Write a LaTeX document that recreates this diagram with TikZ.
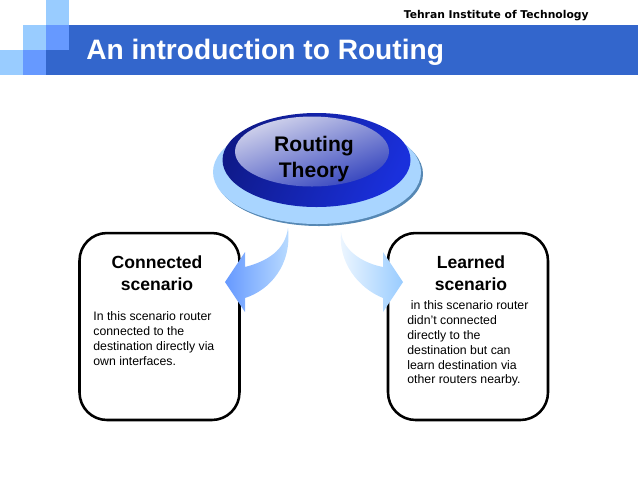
\documentclass[tikz,border=0pt]{standalone}
\usepackage{fontspec}
\setmainfont{Liberation Sans}
\newfontfamily\hdrfont{DejaVu Sans}
\usetikzlibrary{positioning}
\definecolor{bannerblue}{HTML}{3366CC}
\definecolor{midblue}{HTML}{6699FF}
\definecolor{paleblue}{HTML}{99CCFF}
\definecolor{discpale}{HTML}{A9D5FF}
\definecolor{discrim}{HTML}{5688B4}
\definecolor{discdark}{HTML}{0F1A8A}
\definecolor{discbright}{HTML}{1A30DC}
\definecolor{toplight}{HTML}{D2D4EC}
\definecolor{topdeep}{HTML}{3444BE}
\begin{document}
\begin{tikzpicture}[x=0.02cm, y=-0.02cm,
    mybox/.style={draw=black, line width=1.45pt, rounded corners=0.55cm, minimum width=3.2cm, minimum height=3.74cm, inner sep=0pt},
    myhead/.style={font=\fontsize{10}{12.5}\selectfont\bfseries, align=center, inner sep=0pt},
    mybody/.style={font=\fontsize{7}{8.5}\selectfont, align=left, inner sep=0pt}]
    \useasboundingbox (0,0) rectangle (638,478);
    % banner and squares
    \fill[bannerblue] (69,25) rectangle (638,50);
    \fill[bannerblue] (46,50) rectangle (638,75);
    \foreach \x/\y/\col in {46/0/paleblue,23/25/paleblue,0/50/paleblue,46/25/midblue,23/50/midblue}{
      \fill[\col] (\x,\y) rectangle (\x+23,\y+25);
    }
    \node[anchor=base west, inner sep=0pt, text=white, font=\fontsize{16}{18}\selectfont\bfseries] (title) at (86,59) {An introduction to Routing};
    \node[anchor=base east, inner sep=0pt, font=\hdrfont\fontsize{6.13}{7}\selectfont\bfseries] (school) at (589,18) {Tehran Institute of Technology};
    % boxes
    \node[mybox] (leftbox) at (159.5,326.5) {};
    \node[mybox] (rightbox) at (468,326.5) {};
    % disc
    \fill[discrim] (319,174) ellipse (104 and 52);
    \fill[discpale] (317,172) ellipse (104 and 52);
    \shade[left color=discdark, right color=discbright, shading angle=65] (316.5,160) ellipse (94 and 47);
    \shade[top color=toplight, bottom color=topdeep, shading angle=20] (312,151.5) ellipse (77 and 35);
    \node[font=\fontsize{12}{14.7}\selectfont\bfseries, align=center, inner sep=0pt] (theory) at (314,159) {Routing\\Theory};
    % arrows
    \shade[left color=midblue, right color=paleblue!65!white]
      (288,228) .. controls (285,250) and (268,261) .. (245,267) -- (245,252) -- (225,282)
      -- (245,312) -- (245,298) .. controls (270,290) and (292,265) .. (288,228) -- cycle;
    \shade[left color=paleblue!15!white, right color=paleblue]
      (341,232) .. controls (343,250) and (362,263) .. (383,267) -- (383,252) -- (403,282)
      -- (383,312) -- (383,298) .. controls (358,288) and (338,262) .. (341,232) -- cycle;
    % texts
    \node[myhead] (lefthead) at (157,273) {Connected\\scenario};
    \node[mybody, anchor=north west] (lefttext) at (93,311) {In this scenario router\\connected to the\\destination directly via\\own interfaces.};
    \node[myhead] (righthead) at (471,273) {Learned\\scenario};
    \node[mybody, anchor=north west] (righttext) at (407,300) {\hspace{2pt}in this scenario router\\didn’t connected\\directly to the\\destination but can\\learn destination via\\other routers nearby.};
\end{tikzpicture}
\end{document}
